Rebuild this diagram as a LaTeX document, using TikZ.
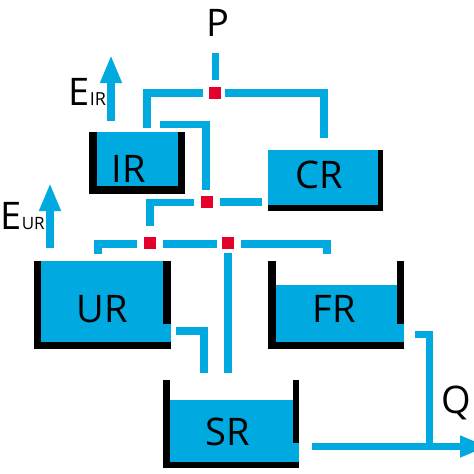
\documentclass[tikz,border=0pt]{standalone}
\usepackage{fontspec}
\setmainfont{Open Sans}
\usetikzlibrary{arrows.meta,calc}
\definecolor{water}{RGB}{0,170,224}
\definecolor{junction}{RGB}{228,0,43}
\tikzset{
  flow/.style={draw=water, line width=7.5pt, line join=miter},
  flowarrow/.style={flow, -{Triangle[length=28pt,width=20pt]}},
  wall/.style={fill=black},
  fillwater/.style={fill=water},
  jsq/.style={fill=junction},
  lbl/.style={inner sep=0pt, anchor=base, font=\fontsize{38}{40}\selectfont},
  sub/.style={font=\fontsize{18}{18}\selectfont}
}
\begin{document}
\begin{tikzpicture}[x=1pt,y=-1pt]
\useasboundingbox (0,0) rectangle (474,474);
\clip (0,0) rectangle (474,474);
% --- junction squares
\coordinate (J1) at (215,93);
\coordinate (J2) at (206.5,201.5);
\coordinate (J3) at (150,243);
\coordinate (J4) at (227.5,243);
\foreach \j in {J1,J2,J3,J4} \fill[jsq] ($(\j)+(-6,-6)$) rectangle ($(\j)+(6,6)$);
% --- IR tank
\fill[fillwater] (89,132) rectangle (185,194);
\fill[wall] (89,132) rectangle (97,194);
\fill[wall] (89,186) rectangle (185,194);
\fill[wall] (178,132) rectangle (185,194);
% --- CR tank
\fill[fillwater] (268,150) rectangle (383,211);
\fill[wall] (378,150) rectangle (383,211);
\fill[wall] (268,205) rectangle (383,211);
% --- UR tank
\fill[fillwater] (41,261) rectangle (171,342);
\fill[wall] (34,261) rectangle (41,349);
\fill[wall] (34,342) rectangle (171,349);
\fill[wall] (163,261) rectangle (171,324);
% --- FR tank
\fill[fillwater] (276,285) rectangle (404,342);
\fill[wall] (268,261) rectangle (276,349);
\fill[wall] (268,342) rectangle (404,349);
\fill[wall] (397,261) rectangle (404,324);
% --- SR tank
\fill[fillwater] (170,400) rectangle (299,462);
\fill[wall] (163,380) rectangle (170,468);
\fill[wall] (163,462) rectangle (299,468);
\fill[wall] (293,380) rectangle (299,443);
% --- flows
\draw[flow] (215.5,53) -- (215.5,80);
\draw[flow] (203,93) -- (147,93) -- (147,128);
\draw[flow] (225,93) -- (324,93) -- (324,138);
\draw[flow] (160,124.5) -- (206,124.5) -- (206,190);
\draw[flow] (194,202.5) -- (150,202.5) -- (150,226);
\draw[flow] (220,202) -- (262,202);
\draw[flow] (137,244) -- (98,244) -- (98,254);
\draw[flow] (163,244) -- (217,244);
\draw[flow] (241,244) -- (327,244) -- (327,254);
\draw[flow] (228,253) -- (228,373);
\draw[flow] (176,331) -- (204,331) -- (204,373);
\draw[flow] (415,334.5) -- (429.5,334.5) -- (429.5,446.5);
\draw[flowarrow] (312,446.5) -- (488,446.5);
\draw[flowarrow] (111,121) -- (111,55);
\draw[flowarrow] (50,248) -- (50,183);
% --- labels
\node[lbl] (P) at (217.5,36) {P};
\node[lbl] (IR) at (128.5,182) {IR};
\node[lbl] (CR) at (319.5,188) {CR};
\node[lbl] (UR) at (102,322) {UR};
\node[lbl] (FR) at (334,322) {FR};
\node[lbl] (SR) at (227.5,445) {SR};
\node[lbl] (Q) at (456,413) {Q};
\node[lbl, anchor=base west] (EIR) at (68.6,105) {E{\fontsize{18}{18}\selectfont IR}};
\node[lbl, anchor=base west] (EUR) at (0.5,229) {E{\fontsize{17}{17}\selectfont UR}};
\end{tikzpicture}
\end{document}
